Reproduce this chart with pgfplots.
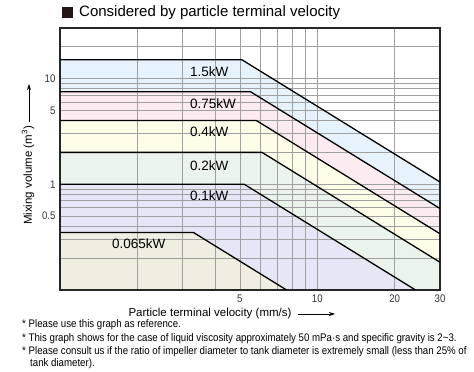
\documentclass[border=0pt]{standalone}
\usepackage{pgfplots}
\pgfplotsset{compat=1.18}
\usepackage{fontspec}
\setmainfont{Liberation Sans}
\newfontfamily\narrowfont[FakeStretch=0.88]{Liberation Sans}
\usetikzlibrary{arrows.meta}
\definecolor{cblue}{HTML}{E6F3FD}
\definecolor{cpink}{HTML}{FDEBF2}
\definecolor{cyellow}{HTML}{FDFDE8}
\definecolor{cgreen}{HTML}{EBF4EA}
\definecolor{clav}{HTML}{E6E6F6}
\definecolor{cbeige}{HTML}{EFEEE0}
\definecolor{csq}{HTML}{231815}
\definecolor{cgrid}{HTML}{A0A0A0}
\begin{document}
\begin{tikzpicture}
\begin{axis}[
  set layers,
  at={(60pt,82pt)}, anchor=south west,
  scale only axis, width=380pt, height=262pt,
  xmode=log, ymode=log,
  xmin=1, xmax=30, ymin=0.1, ymax=30,
  xtick={5,10,20,30}, xticklabels={5,10,20,30},
  minor xtick={2,3,4,6,7,8,9},
  ytick={0.5,1,5,10}, yticklabels={0.5,1,5,10},
  minor ytick={0.2,0.3,0.4,0.6,0.7,0.8,0.9,2,3,4,6,7,8,9,20},
  grid=both,
  major grid style={cgrid, line width=0.6pt},
  minor grid style={cgrid, line width=0.6pt},
  extra x ticks={10}, extra x tick labels={},
  extra x tick style={grid style={black, line width=1.2pt}},
  extra y ticks={1,10}, extra y tick labels={},
  extra y tick style={grid style={black, line width=1.2pt}},
  major tick length=0pt, minor tick length=0pt,
  axis line style={line width=1.3pt, black!85},
  tick label style={font=\narrowfont\fontsize{11}{12}\selectfont, text=black!80},
  xticklabel style={yshift=-1pt},
  yticklabel style={xshift=-1pt},
  /pgf/number format/assume math mode=true,
]
% filled bands (from top to bottom)
\addplot[on layer=axis background, fill=cblue, draw=none] coordinates {(1,15) (5.1,15) (30,1.05) (30,0.1) (1,0.1)} -- cycle;
\addplot[on layer=axis background, fill=cpink, draw=none] coordinates {(1,7.5) (5.5,7.5) (30,0.589) (30,0.1) (1,0.1)} -- cycle;
\addplot[on layer=axis background, fill=cyellow, draw=none] coordinates {(1,4) (5.8,4) (30,0.34) (30,0.1) (1,0.1)} -- cycle;
\addplot[on layer=axis background, fill=cgreen, draw=none] coordinates {(1,2) (6.1,2) (30,0.183) (30,0.1) (1,0.1)} -- cycle;
\addplot[on layer=axis background, fill=clav, draw=none] coordinates {(1,1) (5.2,1) (24.1,0.1) (1,0.1)} -- cycle;
\addplot[on layer=axis background, fill=cbeige, draw=none] coordinates {(1,0.35) (3.3,0.35) (7.6,0.1) (1,0.1)} -- cycle;
% boundary lines
\addplot[black, line width=1.3pt] coordinates {(1,15) (5.1,15) (30,1.05)};
\addplot[black, line width=1.3pt] coordinates {(1,7.5) (5.5,7.5) (30,0.589)};
\addplot[black, line width=1.3pt] coordinates {(1,4) (5.8,4) (30,0.34)};
\addplot[black, line width=1.3pt] coordinates {(1,2) (6.1,2) (30,0.183)};
\addplot[black, line width=1.3pt] coordinates {(1,1) (5.2,1) (24.1,0.1)};
\addplot[black, line width=1.3pt] coordinates {(1,0.35) (3.3,0.35) (7.6,0.1)};
% labels
\begin{scope}[every node/.style={anchor=west, font=\fontsize{13.5}{15}\selectfont, inner sep=0pt}]
\node at (axis cs:3.2,11.5) {1.5kW};
\node at (axis cs:3.2,5.8) {0.75kW};
\node at (axis cs:3.2,3.13) {0.4kW};
\node at (axis cs:3.2,1.51) {0.2kW};
\node at (axis cs:3.2,0.775) {0.1kW};
\node at (axis cs:1.59,0.272) {0.065kW};
\end{scope}
\end{axis}
% title
\fill[csq] (62pt,354pt) rectangle (73pt,365pt);
\node[anchor=west, inner sep=0pt, font=\fontsize{15}{18}\selectfont] at (79pt,359.5pt) {Considered by particle terminal velocity};
% axis labels
\node[font=\fontsize{11.5}{14}\selectfont, inner sep=0pt] at (210pt,58pt) {Particle terminal velocity (mm/s)};
\draw[line width=0.8pt, -{Stealth[length=6pt,width=4pt]}] (298pt,58pt) -- (335pt,58pt);
\node[rotate=90, font=\fontsize{11.5}{14}\selectfont, inner sep=0pt] at (28pt,196.5pt) {Mixing volume (m\textsuperscript{\footnotesize 3})};
\draw[line width=0.8pt, -{Stealth[length=6pt,width=4pt]}] (29pt,250pt) -- (29pt,288pt);
% footnotes
\begin{scope}[every node/.style={anchor=west, inner sep=0pt, font=\narrowfont\fontsize{11}{13}\selectfont}]
\node at (22pt,47pt) {* Please use this graph as reference.};
\node at (22pt,33pt) {* This graph shows for the case of liquid viscosity approximately 50 mPa·s and specific gravity is 2\textasciitilde 3.};
\node at (22pt,20pt) {* Please consult us if the ratio of impeller diameter to tank diameter is extremely small (less than 25\% of};
\node at (30pt,8pt) {tank diameter).};
\end{scope}
\pgfresetboundingbox
\path[use as bounding box] (0,0) rectangle (474pt,372pt);
\end{tikzpicture}
\end{document}
